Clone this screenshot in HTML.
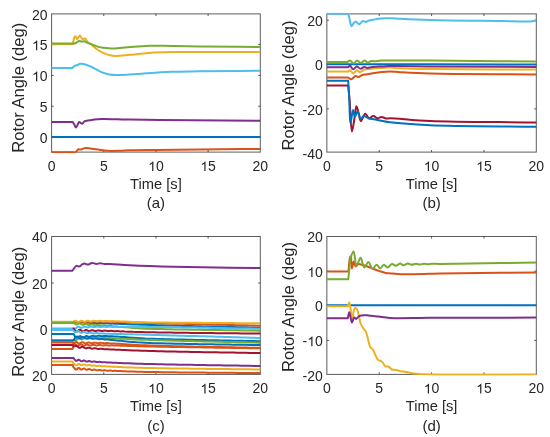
<!DOCTYPE html><html><head><meta charset="utf-8"><style>html,body{margin:0;padding:0;background:#fff;width:550px;height:437px;overflow:hidden}svg{display:block;will-change:transform;filter:blur(0.35px)}text{font-family:"Liberation Sans",sans-serif;fill:#262626}</style></head><body>
<svg width="550" height="437" viewBox="0 0 550 437">
<defs><clipPath id="ca"><rect x="51.60" y="12.70" width="208.70" height="140.60"/></clipPath></defs>
<rect x="51.60" y="13.90" width="208.70" height="138.20" fill="none" stroke="#262626" stroke-width="1" opacity="0.75"/>
<path d="M103.78,152.10v-2.10M103.78,13.90v2.10" stroke="#262626" stroke-width="1" opacity="0.75"/>
<path d="M155.95,152.10v-2.10M155.95,13.90v2.10" stroke="#262626" stroke-width="1" opacity="0.75"/>
<path d="M208.12,152.10v-2.10M208.12,13.90v2.10" stroke="#262626" stroke-width="1" opacity="0.75"/>
<path d="M51.60,137.20h2.10M260.30,137.20h-2.10" stroke="#262626" stroke-width="1" opacity="0.75"/>
<path d="M51.60,106.20h2.10M260.30,106.20h-2.10" stroke="#262626" stroke-width="1" opacity="0.75"/>
<path d="M51.60,75.40h2.10M260.30,75.40h-2.10" stroke="#262626" stroke-width="1" opacity="0.75"/>
<path d="M51.60,44.40h2.10M260.30,44.40h-2.10" stroke="#262626" stroke-width="1" opacity="0.75"/>
<g clip-path="url(#ca)" fill="none" stroke-linejoin="round" stroke-linecap="round">
<path d="M51.60,137.10 C121.17,137.10 190.73,137.10 260.30,137.10" stroke="#0072BD" stroke-width="2.00"/>
<path d="M51.60,152.30 C58.67,152.30 65.73,152.30 72.80,152.30C73.37,152.40 73.94,152.72 74.50,152.60 C75.17,152.45 75.85,151.73 76.50,151.20 C77.19,150.64 77.73,149.56 78.50,149.30 C79.24,149.06 80.23,149.73 81.00,149.60 C81.72,149.47 82.25,148.86 83.00,148.60 C83.88,148.30 84.90,148.04 86.00,148.00 C87.35,147.96 88.81,148.39 90.50,148.60 C92.68,148.88 95.59,149.17 98.00,149.50 C100.25,149.81 102.33,150.25 104.50,150.50 C106.66,150.75 108.66,150.94 111.00,151.00 C113.75,151.08 116.92,150.91 120.00,150.80 C123.25,150.68 125.91,150.43 130.00,150.30 C136.46,150.09 145.45,150.03 155.00,149.90 C167.81,149.73 183.90,149.56 200.00,149.40 C218.63,149.22 240.20,149.07 260.30,148.90" stroke="#D95319" stroke-width="2.00"/>
<path d="M51.60,44.20 C58.60,44.20 65.60,44.20 72.60,44.20C72.93,42.80 73.26,41.29 73.60,40.00 C73.89,38.88 74.03,37.46 74.50,36.90 C74.78,36.57 75.18,36.30 75.50,36.40 C76.03,36.57 76.48,39.07 77.00,39.10 C77.48,39.13 77.99,37.63 78.50,37.00 C78.96,36.44 79.46,35.46 79.90,35.50 C80.37,35.54 80.75,36.88 81.20,37.50 C81.62,38.07 81.95,38.94 82.50,39.10 C83.07,39.27 84.02,38.35 84.60,38.40 C85.04,38.44 85.35,38.66 85.70,39.00 C86.24,39.53 86.54,40.86 87.20,41.60 C87.87,42.36 88.83,42.86 89.70,43.50 C90.63,44.19 91.65,44.84 92.60,45.60 C93.59,46.40 94.40,47.35 95.50,48.20 C96.78,49.19 98.41,50.24 99.90,51.10 C101.34,51.93 102.72,52.63 104.30,53.30 C106.06,54.04 108.09,54.85 110.00,55.30 C111.83,55.73 113.76,55.95 115.50,56.00 C117.07,56.05 118.21,55.84 120.00,55.70 C122.68,55.49 126.14,55.17 130.00,54.80 C135.33,54.29 142.43,53.36 149.00,52.90 C156.06,52.40 163.16,52.17 171.00,52.00 C180.00,51.80 188.58,51.92 200.00,51.90 C216.46,51.87 240.20,51.90 260.30,51.90" stroke="#EDB120" stroke-width="2.00"/>
<path d="M51.60,121.90 C58.63,121.90 65.67,121.90 72.70,121.90C73.23,122.77 73.78,123.59 74.30,124.50 C74.85,125.46 75.35,127.48 75.90,127.50 C76.42,127.52 76.99,125.89 77.50,125.00 C78.06,124.03 78.46,122.06 79.10,121.90 C79.58,121.78 80.15,122.70 80.70,123.00 C81.22,123.29 81.79,123.82 82.30,123.70 C82.96,123.55 83.49,121.96 84.20,121.50 C84.78,121.12 85.35,121.08 86.10,120.90 C87.14,120.65 88.58,120.54 89.90,120.30 C91.34,120.04 92.70,119.61 94.40,119.40 C96.59,119.12 99.03,119.05 102.00,119.00 C106.22,118.93 112.44,119.19 117.30,119.30 C121.73,119.40 124.87,119.50 130.00,119.60 C137.88,119.76 147.07,119.95 160.00,120.10 C183.64,120.37 226.87,120.50 260.30,120.70" stroke="#7E2F8E" stroke-width="2.00"/>
<path d="M51.60,43.50 C58.73,43.50 65.87,43.50 73.00,43.50C73.73,43.43 74.53,43.52 75.20,43.30 C75.86,43.08 76.37,42.58 77.00,42.20 C77.70,41.78 78.45,40.99 79.20,40.90 C79.92,40.82 80.61,41.52 81.40,41.60 C82.29,41.69 83.40,41.11 84.30,41.30 C85.20,41.48 85.89,42.30 86.80,42.70 C87.80,43.14 88.95,43.39 90.10,43.80 C91.37,44.25 92.68,44.78 94.10,45.30 C95.69,45.88 97.48,46.68 99.20,47.10 C100.88,47.51 102.48,47.58 104.30,47.80 C106.38,48.05 108.60,48.44 111.00,48.50 C113.78,48.57 116.92,48.22 120.00,48.00 C123.25,47.76 126.13,47.41 130.00,47.10 C135.32,46.68 142.43,46.01 149.00,45.80 C156.06,45.57 163.16,45.81 171.00,45.90 C180.00,46.00 188.58,46.24 200.00,46.40 C216.46,46.64 240.20,46.87 260.30,47.10" stroke="#77AC30" stroke-width="2.00"/>
<path d="M51.60,68.10 C58.53,68.10 65.47,68.10 72.40,68.10C72.77,67.67 73.13,67.20 73.50,66.80 C73.83,66.44 74.04,66.05 74.50,65.80 C75.13,65.45 76.21,65.51 77.10,65.20 C78.13,64.84 79.12,63.89 80.30,63.70 C81.62,63.48 83.16,63.81 84.70,64.20 C86.53,64.66 88.54,65.63 90.50,66.50 C92.57,67.42 94.69,68.56 96.80,69.60 C98.93,70.65 101.03,71.98 103.20,72.80 C105.27,73.59 107.38,74.12 109.50,74.50 C111.61,74.88 113.76,75.02 115.90,75.10 C118.03,75.18 119.86,75.09 122.30,75.00 C125.56,74.87 130.22,74.54 133.70,74.30 C136.63,74.10 138.26,73.95 141.80,73.70 C148.52,73.23 161.28,72.20 171.00,71.80 C180.68,71.40 188.58,71.46 200.00,71.30 C216.46,71.08 240.20,70.90 260.30,70.70" stroke="#4DBEEE" stroke-width="2.00"/>
</g>
<text x="47.71" y="171.10" font-size="14">0</text>
<text x="99.88" y="171.10" font-size="14">5</text>
<text x="148.16" y="171.10" font-size="14"> 0</text><path d="M763 0H583V1147Q518 1085 412.5 1023T223 930V1104Q374 1175 487 1276T647 1472H763V0Z" transform="translate(148.164,171.100) scale(0.00684,-0.00654)" fill="#262626"/>
<text x="200.34" y="171.10" font-size="14"> 5</text><path d="M763 0H583V1147Q518 1085 412.5 1023T223 930V1104Q374 1175 487 1276T647 1472H763V0Z" transform="translate(200.339,171.100) scale(0.00684,-0.00654)" fill="#262626"/>
<text x="252.51" y="171.10" font-size="14">20</text>
<text x="39.81" y="143.00" font-size="14">0</text>
<text x="39.81" y="112.00" font-size="14">5</text>
<text x="32.03" y="81.20" font-size="14"> 0</text><path d="M763 0H583V1147Q518 1085 412.5 1023T223 930V1104Q374 1175 487 1276T647 1472H763V0Z" transform="translate(32.028,81.200) scale(0.00684,-0.00654)" fill="#262626"/>
<text x="32.03" y="50.20" font-size="14"> 5</text><path d="M763 0H583V1147Q518 1085 412.5 1023T223 930V1104Q374 1175 487 1276T647 1472H763V0Z" transform="translate(32.028,50.200) scale(0.00684,-0.00654)" fill="#262626"/>
<text x="32.03" y="19.60" font-size="14">20</text>
<text x="155.95" y="189.00" font-size="14.7" text-anchor="middle">Time [s]</text>
<text x="155.95" y="208.40" font-size="15" text-anchor="middle">(a)</text>
<text transform="translate(23.60,87.70) rotate(-90)" font-size="16.6" text-anchor="middle">Rotor Angle (deg)</text>
<defs><clipPath id="cb"><rect x="326.85" y="12.70" width="209.45" height="140.60"/></clipPath></defs>
<rect x="326.85" y="13.90" width="209.45" height="138.20" fill="none" stroke="#262626" stroke-width="1" opacity="0.75"/>
<path d="M379.21,152.10v-2.10M379.21,13.90v2.10" stroke="#262626" stroke-width="1" opacity="0.75"/>
<path d="M431.57,152.10v-2.10M431.57,13.90v2.10" stroke="#262626" stroke-width="1" opacity="0.75"/>
<path d="M483.94,152.10v-2.10M483.94,13.90v2.10" stroke="#262626" stroke-width="1" opacity="0.75"/>
<path d="M326.85,20.20h2.10M536.30,20.20h-2.10" stroke="#262626" stroke-width="1" opacity="0.75"/>
<path d="M326.85,64.60h2.10M536.30,64.60h-2.10" stroke="#262626" stroke-width="1" opacity="0.75"/>
<path d="M326.85,108.90h2.10M536.30,108.90h-2.10" stroke="#262626" stroke-width="1" opacity="0.75"/>
<g clip-path="url(#cb)" fill="none" stroke-linejoin="round" stroke-linecap="round">
<path d="M326.70,64.30 C396.57,64.33 466.43,64.37 536.30,64.40" stroke="#0072BD" stroke-width="2.00"/>
<path d="M326.70,77.60 C333.70,77.60 340.70,77.60 347.70,77.60C348.30,77.90 348.89,78.22 349.50,78.50 C350.12,78.79 350.68,79.40 351.40,79.30 C352.55,79.15 354.16,76.36 355.50,76.10 C356.55,75.90 357.58,77.12 358.60,77.00 C359.68,76.87 360.54,75.64 361.80,75.20 C363.35,74.66 365.35,74.65 367.30,74.30 C369.54,73.90 372.09,73.28 374.50,72.90 C376.92,72.52 379.29,72.23 381.80,72.00 C384.45,71.76 387.13,71.49 390.00,71.50 C393.17,71.51 395.77,71.95 400.00,72.20 C407.32,72.63 416.93,73.25 430.00,73.60 C454.58,74.27 500.87,74.13 536.30,74.40" stroke="#D95319" stroke-width="2.00"/>
<path d="M326.70,71.50 C333.87,71.50 341.03,71.50 348.20,71.50C348.80,71.07 349.34,70.15 350.00,70.20 C350.94,70.28 352.09,73.37 353.20,73.40 C354.35,73.43 355.60,70.30 356.80,70.20 C357.86,70.11 358.87,72.19 360.00,72.20 C361.28,72.21 362.45,70.27 364.10,69.70 C366.20,68.98 369.12,69.09 371.80,68.80 C374.73,68.49 377.95,68.10 381.00,67.90 C384.01,67.70 386.92,67.56 390.00,67.60 C393.25,67.64 395.77,68.02 400.00,68.20 C407.32,68.52 416.94,68.79 430.00,69.00 C454.58,69.40 500.87,69.40 536.30,69.60" stroke="#EDB120" stroke-width="2.00"/>
<path d="M326.70,67.30 C333.87,67.30 341.03,67.30 348.20,67.30C348.80,66.80 349.34,65.76 350.00,65.80 C350.94,65.86 352.05,69.20 353.20,69.30 C354.32,69.40 355.57,66.56 356.80,66.50 C358.00,66.44 359.26,68.74 360.50,68.80 C361.69,68.86 362.91,67.11 364.10,67.00 C365.18,66.90 366.19,67.85 367.30,67.90 C368.48,67.95 369.46,67.40 371.00,67.20 C373.51,66.88 377.75,66.69 381.00,66.50 C384.08,66.32 385.93,66.18 390.00,66.10 C398.58,65.94 413.47,66.29 430.00,66.40 C456.94,66.58 500.87,66.80 536.30,67.00" stroke="#7E2F8E" stroke-width="2.00"/>
<path d="M326.70,62.00 C333.70,62.00 340.70,62.00 347.70,62.00C348.47,61.47 349.16,60.36 350.00,60.40 C351.08,60.45 352.39,63.39 353.60,63.40 C354.82,63.41 356.11,60.41 357.30,60.40 C358.40,60.39 359.35,62.84 360.50,62.90 C361.74,62.96 363.25,60.39 364.50,60.40 C365.63,60.41 366.57,62.40 367.70,62.50 C368.86,62.60 370.20,61.07 371.40,60.90 C372.46,60.75 373.28,61.29 374.50,61.30 C376.27,61.32 378.65,60.74 381.00,60.60 C383.75,60.44 385.93,60.53 390.00,60.50 C398.58,60.44 413.47,60.33 430.00,60.40 C456.94,60.52 500.87,61.20 536.30,61.60" stroke="#77AC30" stroke-width="2.00"/>
<path d="M326.70,13.80 C333.87,13.80 341.03,13.80 348.20,13.80C348.67,15.53 349.10,17.13 349.60,19.00 C350.19,21.20 350.65,26.04 351.50,26.20 C352.07,26.31 352.76,24.30 353.50,23.50 C354.20,22.74 354.96,21.51 355.80,21.50 C356.80,21.49 357.97,24.22 359.10,24.20 C360.33,24.18 361.68,21.10 362.90,20.90 C363.83,20.75 364.62,22.01 365.60,22.00 C366.76,21.99 368.13,20.77 369.40,20.40 C370.60,20.05 371.69,20.05 373.00,19.80 C374.58,19.50 376.29,18.96 378.20,18.70 C380.48,18.38 383.36,18.28 385.80,18.20 C388.05,18.13 390.04,18.13 392.30,18.20 C394.76,18.28 396.59,18.52 400.00,18.70 C406.72,19.06 417.91,19.65 430.00,20.00 C448.46,20.53 481.54,20.75 500.00,21.00 C512.09,21.17 523.72,21.66 530.00,21.40 C532.88,21.28 534.20,21.00 536.30,20.80" stroke="#4DBEEE" stroke-width="2.00"/>
<path d="M326.70,85.40 C333.87,85.40 341.03,85.40 348.20,85.40C348.67,90.27 349.11,94.21 349.60,100.00 C350.32,108.50 350.83,131.43 351.90,131.50 C352.55,131.54 353.48,124.01 354.20,120.00 C354.99,115.64 355.49,106.37 356.40,106.30 C357.05,106.25 357.90,110.65 358.60,113.00 C359.37,115.56 359.70,120.94 360.80,121.10 C361.92,121.26 363.80,113.81 365.30,113.70 C366.53,113.61 367.57,117.90 369.00,118.20 C370.33,118.48 372.09,115.84 373.50,115.90 C374.81,115.95 375.86,118.00 377.20,118.20 C378.59,118.41 380.22,116.95 381.70,117.00 C383.18,117.05 384.66,118.32 386.10,118.50 C387.42,118.67 388.02,118.21 390.00,118.20 C396.34,118.18 413.46,120.31 430.00,121.00 C456.93,122.12 500.87,121.93 536.30,122.40" stroke="#A2142F" stroke-width="2.00"/>
<path d="M326.70,80.70 C333.87,80.70 341.03,80.70 348.20,80.70C348.57,87.13 348.95,93.26 349.30,100.00 C349.69,107.42 349.57,123.34 350.40,123.40 C351.03,123.45 352.23,110.03 353.10,110.00 C353.72,109.98 354.10,116.61 354.90,116.70 C355.63,116.78 356.70,111.47 357.60,111.50 C358.66,111.54 359.55,118.66 360.80,118.90 C361.70,119.07 362.62,116.09 363.80,115.90 C365.09,115.70 366.65,117.64 368.30,118.20 C370.09,118.81 372.12,118.90 374.20,119.30 C376.55,119.75 379.13,120.31 381.70,120.80 C384.39,121.31 386.18,121.82 390.00,122.30 C398.33,123.35 413.46,124.48 430.00,125.20 C456.93,126.38 500.87,126.27 536.30,126.80" stroke="#0072BD" stroke-width="2.00"/>
</g>
<text x="322.96" y="171.10" font-size="14">0</text>
<text x="375.32" y="171.10" font-size="14">5</text>
<text x="423.79" y="171.10" font-size="14"> 0</text><path d="M763 0H583V1147Q518 1085 412.5 1023T223 930V1104Q374 1175 487 1276T647 1472H763V0Z" transform="translate(423.789,171.100) scale(0.00684,-0.00654)" fill="#262626"/>
<text x="476.15" y="171.10" font-size="14"> 5</text><path d="M763 0H583V1147Q518 1085 412.5 1023T223 930V1104Q374 1175 487 1276T647 1472H763V0Z" transform="translate(476.151,171.100) scale(0.00684,-0.00654)" fill="#262626"/>
<text x="528.51" y="171.10" font-size="14">20</text>
<text x="307.28" y="26.00" font-size="14">20</text>
<text x="315.06" y="70.40" font-size="14">0</text>
<text x="302.62" y="114.70" font-size="14">-20</text>
<text x="302.62" y="158.70" font-size="14">-40</text>
<text x="431.57" y="189.00" font-size="14.7" text-anchor="middle">Time [s]</text>
<text x="431.57" y="208.40" font-size="15" text-anchor="middle">(b)</text>
<text transform="translate(293.50,85.50) rotate(-90)" font-size="16.6" text-anchor="middle">Rotor Angle (deg)</text>
<defs><clipPath id="cc"><rect x="51.60" y="235.30" width="208.70" height="140.30"/></clipPath></defs>
<rect x="51.60" y="236.50" width="208.70" height="137.90" fill="none" stroke="#262626" stroke-width="1" opacity="0.75"/>
<path d="M103.78,374.40v-2.10M103.78,236.50v2.10" stroke="#262626" stroke-width="1" opacity="0.75"/>
<path d="M155.95,374.40v-2.10M155.95,236.50v2.10" stroke="#262626" stroke-width="1" opacity="0.75"/>
<path d="M208.12,374.40v-2.10M208.12,236.50v2.10" stroke="#262626" stroke-width="1" opacity="0.75"/>
<path d="M51.60,283.00h2.10M260.30,283.00h-2.10" stroke="#262626" stroke-width="1" opacity="0.75"/>
<path d="M51.60,328.90h2.10M260.30,328.90h-2.10" stroke="#262626" stroke-width="1" opacity="0.75"/>
<g clip-path="url(#cc)" fill="none" stroke-linejoin="round" stroke-linecap="round">
<path d="M51.60,322.40 L72.47,322.40 L72.89,322.65 L73.30,322.77 L73.72,322.70 L74.14,322.41 L74.56,322.15 L74.97,321.95 L75.39,321.86 L75.81,321.88 L76.23,322.00 L76.64,322.21 L77.06,322.47 L77.48,322.73 L77.90,322.95 L78.31,323.11 L78.73,323.17 L79.15,323.14 L79.57,323.02 L79.98,322.86 L80.40,322.67 L80.82,322.49 L81.24,322.36 L81.65,322.29 L82.07,322.30 L82.49,322.38 L82.91,322.52 L83.32,322.69 L83.74,322.87 L84.16,323.02 L84.57,323.12 L84.99,323.17 L85.41,323.15 L85.83,323.08 L86.24,322.97 L86.66,322.84 L87.08,322.72 L87.50,322.64 L87.91,322.60 L88.33,322.61 L88.75,322.67 L89.17,322.76 L89.58,322.88 L90.00,323.00 L90.42,323.10 L90.84,323.18 L91.25,323.21 L91.67,323.20 L92.09,323.15 L92.51,323.08 L92.92,323.00 L93.34,322.93 L93.76,322.88 L94.17,322.85 L94.59,322.86 L95.01,322.91 L95.43,322.98 L95.84,323.06 L96.26,323.14 L96.68,323.22 L97.10,323.27 L97.51,323.30 L97.93,323.30 L98.35,323.27 L98.77,323.23 L99.18,323.18 L99.60,323.14 L100.02,323.11 L100.44,323.10 L100.85,323.11 L101.27,323.14 L101.69,323.20 L102.11,323.26 L102.52,323.32 L102.94,323.38 L103.36,323.42 L103.78,323.44 L104.19,323.45 L104.61,323.44 L105.03,323.42 L105.44,323.39 L105.86,323.36 L106.28,323.35 L106.70,323.35 L107.11,323.36 L107.53,323.39 L107.95,323.43 L108.37,323.48 L108.78,323.53 L109.20,323.57 L109.62,323.61 L110.04,323.63 L110.45,323.64 L110.87,323.64 L111.29,323.63 L111.71,323.61 L112.12,323.60 L112.54,323.60 L112.96,323.61 L113.38,323.62 L113.79,323.65 L114.21,323.68 L114.63,323.72 L115.04,323.75 L115.46,323.79 L115.88,323.82 L116.30,323.84 L116.71,323.85 L117.13,323.85 L117.55,323.85 L117.97,323.85 L118.38,323.85 L118.80,323.85 L119.22,323.86 L119.64,323.88 L120.05,323.90 L120.47,323.93 L120.89,323.96 L121.31,323.99 L121.72,324.02 L122.14,324.04 L122.56,324.06 L122.98,324.08 L123.39,324.09 L123.81,324.09 L124.23,324.10 L124.65,324.10 L128.82,324.30 L132.99,324.42 L137.17,324.58 L141.34,324.74 L145.52,324.87 L149.69,325.00 L153.86,325.12 L158.04,325.24 L162.21,325.35 L166.39,325.47 L170.56,325.57 L174.73,325.68 L178.91,325.79 L183.08,325.89 L187.26,325.99 L191.43,326.09 L195.60,326.19 L199.78,326.29 L203.95,326.39 L208.13,326.49 L212.30,326.58 L216.47,326.68 L220.65,326.77 L224.82,326.87 L229.00,326.97 L233.17,327.06 L237.34,327.16 L241.52,327.25 L245.69,327.35 L249.87,327.45 L254.04,327.55 L258.21,327.65 L260.30,327.70" stroke="#0072BD" stroke-width="2.00"/>
<path d="M51.60,322.20 L72.47,322.20 L72.89,322.33 L73.30,322.31 L73.72,322.13 L74.14,321.92 L74.56,321.76 L74.97,321.68 L75.39,321.69 L75.81,321.79 L76.23,321.94 L76.64,322.12 L77.06,322.30 L77.48,322.44 L77.90,322.53 L78.31,322.54 L78.73,322.48 L79.15,322.37 L79.57,322.21 L79.98,322.04 L80.40,321.89 L80.82,321.78 L81.24,321.72 L81.65,321.71 L82.07,321.77 L82.49,321.86 L82.91,321.97 L83.32,322.08 L83.74,322.17 L84.16,322.22 L84.57,322.23 L84.99,322.18 L85.41,322.09 L85.83,321.98 L86.24,321.86 L86.66,321.76 L87.08,321.67 L87.50,321.63 L87.91,321.62 L88.33,321.65 L88.75,321.71 L89.17,321.78 L89.58,321.85 L90.00,321.90 L90.42,321.93 L90.84,321.93 L91.25,321.90 L91.67,321.84 L92.09,321.76 L92.51,321.68 L92.92,321.61 L93.34,321.55 L93.76,321.52 L94.17,321.52 L94.59,321.54 L95.01,321.58 L95.43,321.63 L95.84,321.67 L96.26,321.71 L96.68,321.74 L97.10,321.74 L97.51,321.72 L97.93,321.68 L98.35,321.64 L98.77,321.59 L99.18,321.55 L99.60,321.51 L100.02,321.50 L100.44,321.50 L100.85,321.52 L101.27,321.56 L101.69,321.60 L102.11,321.64 L102.52,321.67 L102.94,321.69 L103.36,321.70 L103.78,321.69 L104.19,321.68 L104.61,321.65 L105.03,321.62 L105.44,321.60 L105.86,321.58 L106.28,321.58 L106.70,321.59 L107.11,321.61 L107.53,321.63 L107.95,321.67 L108.37,321.70 L108.78,321.73 L109.20,321.75 L109.62,321.76 L110.04,321.76 L110.45,321.76 L110.87,321.74 L111.29,321.73 L111.71,321.72 L112.12,321.72 L112.54,321.72 L112.96,321.73 L113.38,321.75 L113.79,321.78 L114.21,321.80 L114.63,321.83 L115.04,321.86 L115.46,321.88 L115.88,321.89 L116.30,321.90 L116.71,321.90 L117.13,321.90 L117.55,321.90 L117.97,321.90 L118.38,321.90 L118.80,321.91 L119.22,321.92 L119.64,321.94 L120.05,321.97 L120.47,321.99 L120.89,322.02 L121.31,322.04 L121.72,322.06 L122.14,322.07 L122.56,322.08 L122.98,322.09 L123.39,322.10 L123.81,322.10 L124.23,322.11 L124.65,322.12 L128.82,322.30 L132.99,322.44 L137.17,322.59 L141.34,322.75 L145.52,322.88 L149.69,323.00 L153.86,323.11 L158.04,323.22 L162.21,323.32 L166.39,323.43 L170.56,323.53 L174.73,323.64 L178.91,323.74 L183.08,323.84 L187.26,323.94 L191.43,324.05 L195.60,324.15 L199.78,324.25 L203.95,324.35 L208.13,324.45 L212.30,324.55 L216.47,324.65 L220.65,324.75 L224.82,324.85 L229.00,324.95 L233.17,325.05 L237.34,325.15 L241.52,325.25 L245.69,325.35 L249.87,325.45 L254.04,325.55 L258.21,325.65 L260.30,325.70" stroke="#D95319" stroke-width="2.00"/>
<path d="M51.60,349.00 L72.47,349.00 L72.89,348.38 L73.30,346.65 L73.72,344.78 L74.14,344.07 L74.56,343.96 L74.97,344.02 L75.39,344.25 L75.81,344.60 L76.23,344.99 L76.64,345.37 L77.06,345.66 L77.48,345.83 L77.90,345.85 L78.31,345.73 L78.73,345.49 L79.15,345.18 L79.57,344.86 L79.98,344.59 L80.40,344.40 L80.82,344.32 L81.24,344.37 L81.65,344.52 L82.07,344.75 L82.49,345.02 L82.91,345.27 L83.32,345.47 L83.74,345.59 L84.16,345.61 L84.57,345.53 L84.99,345.37 L85.41,345.17 L85.83,344.95 L86.24,344.77 L86.66,344.64 L87.08,344.60 L87.50,344.63 L87.91,344.74 L88.33,344.89 L88.75,345.07 L89.17,345.25 L89.58,345.38 L90.00,345.46 L90.42,345.48 L90.84,345.42 L91.25,345.32 L91.67,345.19 L92.09,345.05 L92.51,344.93 L92.92,344.84 L93.34,344.81 L93.76,344.84 L94.17,344.91 L94.59,345.02 L95.01,345.14 L95.43,345.26 L95.84,345.35 L96.26,345.41 L96.68,345.42 L97.10,345.39 L97.51,345.32 L97.93,345.23 L98.35,345.14 L98.77,345.06 L99.18,345.01 L99.60,344.99 L100.02,345.01 L100.44,345.06 L100.85,345.13 L101.27,345.22 L101.69,345.30 L102.11,345.37 L102.52,345.41 L102.94,345.42 L103.36,345.40 L103.78,345.36 L104.19,345.30 L104.61,345.25 L105.03,345.20 L105.44,345.17 L105.86,345.16 L106.28,345.18 L106.70,345.22 L107.11,345.27 L107.53,345.33 L107.95,345.39 L108.37,345.44 L108.78,345.47 L109.20,345.48 L109.62,345.48 L110.04,345.46 L110.45,345.42 L110.87,345.39 L111.29,345.36 L111.71,345.35 L112.12,345.35 L112.54,345.36 L112.96,345.39 L113.38,345.44 L113.79,345.48 L114.21,345.53 L114.63,345.57 L115.04,345.59 L115.46,345.61 L115.88,345.61 L116.30,345.60 L116.71,345.58 L117.13,345.56 L117.55,345.55 L117.97,345.54 L118.38,345.55 L118.80,345.56 L119.22,345.59 L119.64,345.62 L120.05,345.66 L120.47,345.69 L120.89,345.73 L121.31,345.75 L121.72,345.76 L122.14,345.77 L122.56,345.77 L122.98,345.76 L123.39,345.75 L123.81,345.75 L124.23,345.75 L124.65,345.76 L128.82,345.95 L132.99,346.07 L137.17,346.17 L141.34,346.31 L145.52,346.41 L149.69,346.49 L153.86,346.59 L158.04,346.66 L162.21,346.74 L166.39,346.82 L170.56,346.89 L174.73,346.96 L178.91,347.04 L183.08,347.10 L187.26,347.17 L191.43,347.24 L195.60,347.31 L199.78,347.37 L203.95,347.44 L208.13,347.50 L212.30,347.56 L216.47,347.63 L220.65,347.69 L224.82,347.75 L229.00,347.81 L233.17,347.88 L237.34,347.94 L241.52,348.00 L245.69,348.07 L249.87,348.13 L254.04,348.20 L258.21,348.27 L260.30,348.30" stroke="#D95319" stroke-width="2.00"/>
<path d="M51.60,321.80 L72.47,321.80 L72.89,322.00 L73.30,321.94 L73.72,321.60 L74.14,321.19 L74.56,320.88 L74.97,320.71 L75.39,320.70 L75.81,320.84 L76.23,321.09 L76.64,321.39 L77.06,321.69 L77.48,321.93 L77.90,322.07 L78.31,322.10 L78.73,322.01 L79.15,321.81 L79.57,321.56 L79.98,321.28 L80.40,321.04 L80.82,320.85 L81.24,320.76 L81.65,320.76 L82.07,320.86 L82.49,321.02 L82.91,321.22 L83.32,321.42 L83.74,321.57 L84.16,321.67 L84.57,321.68 L84.99,321.62 L85.41,321.49 L85.83,321.32 L86.24,321.13 L86.66,320.96 L87.08,320.84 L87.50,320.77 L87.91,320.78 L88.33,320.84 L88.75,320.95 L89.17,321.08 L89.58,321.21 L90.00,321.32 L90.42,321.38 L90.84,321.39 L91.25,321.35 L91.67,321.26 L92.09,321.15 L92.51,321.02 L92.92,320.91 L93.34,320.83 L93.76,320.79 L94.17,320.79 L94.59,320.83 L95.01,320.91 L95.43,321.00 L95.84,321.09 L96.26,321.16 L96.68,321.21 L97.10,321.21 L97.51,321.19 L97.93,321.13 L98.35,321.06 L98.77,320.98 L99.18,320.91 L99.60,320.86 L100.02,320.83 L100.44,320.84 L100.85,320.87 L101.27,320.93 L101.69,320.99 L102.11,321.06 L102.52,321.11 L102.94,321.15 L103.36,321.16 L103.78,321.15 L104.19,321.12 L104.61,321.07 L105.03,321.02 L105.44,320.98 L105.86,320.95 L106.28,320.95 L106.70,320.96 L107.11,320.99 L107.53,321.03 L107.95,321.08 L108.37,321.13 L108.78,321.17 L109.20,321.20 L109.62,321.22 L110.04,321.22 L110.45,321.20 L110.87,321.18 L111.29,321.16 L111.71,321.14 L112.12,321.12 L112.54,321.12 L112.96,321.14 L113.38,321.17 L113.79,321.20 L114.21,321.24 L114.63,321.28 L115.04,321.32 L115.46,321.35 L115.88,321.36 L116.30,321.37 L116.71,321.37 L117.13,321.36 L117.55,321.35 L117.97,321.35 L118.38,321.34 L118.80,321.35 L119.22,321.37 L119.64,321.39 L120.05,321.42 L120.47,321.46 L120.89,321.49 L121.31,321.52 L121.72,321.55 L122.14,321.57 L122.56,321.58 L122.98,321.58 L123.39,321.58 L123.81,321.58 L124.23,321.59 L124.65,321.59 L128.82,321.81 L132.99,321.94 L137.17,322.08 L141.34,322.23 L145.52,322.33 L149.69,322.39 L153.86,322.46 L158.04,322.50 L162.21,322.54 L166.39,322.59 L170.56,322.63 L174.73,322.67 L178.91,322.71 L183.08,322.74 L187.26,322.78 L191.43,322.81 L195.60,322.84 L199.78,322.87 L203.95,322.90 L208.13,322.93 L212.30,322.96 L216.47,322.99 L220.65,323.02 L224.82,323.05 L229.00,323.07 L233.17,323.10 L237.34,323.13 L241.52,323.16 L245.69,323.19 L249.87,323.22 L254.04,323.25 L258.21,323.28 L260.30,323.30" stroke="#EDB120" stroke-width="2.00"/>
<path d="M51.60,270.80 C58.53,270.80 65.47,270.80 72.40,270.80C73.00,269.93 73.56,269.02 74.20,268.20 C74.83,267.39 75.47,266.14 76.20,265.90 C76.76,265.71 77.41,266.22 78.00,266.30 C78.55,266.38 79.05,266.57 79.60,266.40 C80.36,266.16 81.16,264.99 82.00,264.50 C82.77,264.05 83.64,263.51 84.40,263.50 C85.10,263.50 85.74,264.12 86.40,264.30 C87.01,264.47 87.50,264.69 88.20,264.60 C89.25,264.47 90.67,263.01 92.00,262.90 C93.37,262.78 94.90,263.97 96.30,264.00 C97.63,264.03 98.87,263.21 100.20,263.20 C101.60,263.19 102.97,263.85 104.50,264.00 C106.21,264.17 107.61,264.00 110.00,264.10 C114.50,264.28 121.62,264.93 129.40,265.30 C141.12,265.86 156.33,266.39 173.50,266.80 C197.58,267.38 231.37,267.60 260.30,268.00" stroke="#7E2F8E" stroke-width="2.00"/>
<path d="M51.60,322.80 L72.47,322.80 L72.89,322.52 L73.30,322.30 L73.72,322.26 L74.14,322.68 L74.56,323.18 L74.97,323.67 L75.39,324.07 L75.81,324.33 L76.23,324.45 L76.64,324.43 L77.06,324.29 L77.48,324.07 L77.90,323.81 L78.31,323.57 L78.73,323.39 L79.15,323.31 L79.57,323.34 L79.98,323.48 L80.40,323.69 L80.82,323.96 L81.24,324.23 L81.65,324.47 L82.07,324.64 L82.49,324.72 L82.91,324.71 L83.32,324.61 L83.74,324.47 L84.16,324.29 L84.57,324.13 L84.99,324.02 L85.41,323.96 L85.83,323.98 L86.24,324.08 L86.66,324.23 L87.08,324.41 L87.50,324.59 L87.91,324.75 L88.33,324.87 L88.75,324.93 L89.17,324.92 L89.58,324.86 L90.00,324.77 L90.42,324.66 L90.84,324.55 L91.25,324.48 L91.67,324.45 L92.09,324.47 L92.51,324.54 L92.92,324.64 L93.34,324.77 L93.76,324.90 L94.17,325.02 L94.59,325.10 L95.01,325.15 L95.43,325.16 L95.84,325.13 L96.26,325.07 L96.68,325.01 L97.10,324.95 L97.51,324.91 L97.93,324.90 L98.35,324.93 L98.77,324.98 L99.18,325.07 L99.60,325.17 L100.02,325.27 L100.44,325.36 L100.85,325.43 L101.27,325.48 L101.69,325.49 L102.11,325.49 L102.52,325.47 L102.94,325.44 L103.36,325.41 L103.78,325.40 L104.19,325.41 L104.61,325.44 L105.03,325.49 L105.44,325.56 L105.86,325.65 L106.28,325.73 L106.70,325.80 L107.11,325.86 L107.53,325.91 L107.95,325.93 L108.37,325.94 L108.78,325.94 L109.20,325.94 L109.62,325.93 L110.04,325.94 L110.45,325.96 L110.87,325.99 L111.29,326.04 L111.71,326.10 L112.12,326.17 L112.54,326.24 L112.96,326.30 L113.38,326.36 L113.79,326.40 L114.21,326.43 L114.63,326.45 L115.04,326.46 L115.46,326.47 L115.88,326.48 L116.30,326.50 L116.71,326.52 L117.13,326.56 L117.55,326.60 L117.97,326.66 L118.38,326.71 L118.80,326.77 L119.22,326.83 L119.64,326.88 L120.05,326.92 L120.47,326.95 L120.89,326.97 L121.31,326.99 L121.72,327.01 L122.14,327.03 L122.56,327.05 L122.98,327.08 L123.39,327.12 L123.81,327.16 L124.23,327.20 L124.65,327.25 L128.82,327.58 L132.99,327.94 L137.17,328.20 L141.34,328.44 L145.52,328.66 L149.69,328.80 L153.86,328.91 L158.04,329.02 L162.21,329.12 L166.39,329.21 L170.56,329.31 L174.73,329.39 L178.91,329.47 L183.08,329.55 L187.26,329.62 L191.43,329.69 L195.60,329.75 L199.78,329.82 L203.95,329.88 L208.13,329.94 L212.30,330.00 L216.47,330.06 L220.65,330.12 L224.82,330.17 L229.00,330.23 L233.17,330.29 L237.34,330.35 L241.52,330.41 L245.69,330.47 L249.87,330.53 L254.04,330.60 L258.21,330.66 L260.30,330.70" stroke="#77AC30" stroke-width="2.00"/>
<path d="M51.60,328.50 L72.47,328.50 L72.89,328.18 L73.30,328.03 L73.72,328.14 L74.14,328.35 L74.56,328.48 L74.97,328.51 L75.39,328.43 L75.81,328.27 L76.23,327.99 L76.64,327.64 L77.06,327.27 L77.48,326.95 L77.90,326.72 L78.31,326.61 L78.73,326.63 L79.15,326.77 L79.57,327.00 L79.98,327.26 L80.40,327.52 L80.82,327.71 L81.24,327.82 L81.65,327.82 L82.07,327.71 L82.49,327.53 L82.91,327.29 L83.32,327.04 L83.74,326.82 L84.16,326.66 L84.57,326.59 L84.99,326.60 L85.41,326.70 L85.83,326.85 L86.24,327.02 L86.66,327.19 L87.08,327.32 L87.50,327.39 L87.91,327.39 L88.33,327.32 L88.75,327.19 L89.17,327.03 L89.58,326.87 L90.00,326.72 L90.42,326.62 L90.84,326.57 L91.25,326.58 L91.67,326.64 L92.09,326.74 L92.51,326.86 L92.92,326.97 L93.34,327.06 L93.76,327.11 L94.17,327.11 L94.59,327.07 L95.01,326.99 L95.43,326.88 L95.84,326.77 L96.26,326.68 L96.68,326.61 L97.10,326.58 L97.51,326.59 L97.93,326.64 L98.35,326.71 L98.77,326.80 L99.18,326.88 L99.60,326.94 L100.02,326.98 L100.44,326.98 L100.85,326.96 L101.27,326.91 L101.69,326.84 L102.11,326.77 L102.52,326.71 L102.94,326.67 L103.36,326.65 L103.78,326.66 L104.19,326.69 L104.61,326.74 L105.03,326.80 L105.44,326.85 L105.86,326.90 L106.28,326.92 L106.70,326.93 L107.11,326.91 L107.53,326.88 L107.95,326.83 L108.37,326.79 L108.78,326.75 L109.20,326.72 L109.62,326.71 L110.04,326.72 L110.45,326.74 L110.87,326.77 L111.29,326.81 L111.71,326.85 L112.12,326.88 L112.54,326.90 L112.96,326.90 L113.38,326.89 L113.79,326.87 L114.21,326.84 L114.63,326.81 L115.04,326.78 L115.46,326.77 L115.88,326.76 L116.30,326.76 L116.71,326.78 L117.13,326.80 L117.55,326.83 L117.97,326.86 L118.38,326.88 L118.80,326.89 L119.22,326.89 L119.64,326.89 L120.05,326.87 L120.47,326.85 L120.89,326.84 L121.31,326.82 L121.72,326.81 L122.14,326.80 L122.56,326.81 L122.98,326.82 L123.39,326.84 L123.81,326.86 L124.23,326.87 L124.65,326.89 L128.82,326.85 L132.99,326.91 L137.17,326.94 L141.34,326.94 L145.52,326.98 L149.69,327.01 L153.86,327.02 L158.04,327.07 L162.21,327.11 L166.39,327.15 L170.56,327.20 L174.73,327.26 L178.91,327.32 L183.08,327.38 L187.26,327.45 L191.43,327.52 L195.60,327.59 L199.78,327.67 L203.95,327.74 L208.13,327.82 L212.30,327.90 L216.47,327.98 L220.65,328.06 L224.82,328.15 L229.00,328.23 L233.17,328.31 L237.34,328.39 L241.52,328.47 L245.69,328.55 L249.87,328.62 L254.04,328.69 L258.21,328.77 L260.30,328.80" stroke="#4DBEEE" stroke-width="2.00"/>
<path d="M51.60,330.00 L72.47,330.00 L72.89,329.65 L73.30,329.17 L73.72,328.80 L74.14,329.13 L74.56,329.63 L74.97,330.23 L75.39,330.80 L75.81,331.25 L76.23,331.55 L76.64,331.66 L77.06,331.57 L77.48,331.31 L77.90,330.92 L78.31,330.50 L78.73,330.10 L79.15,329.79 L79.57,329.63 L79.98,329.64 L80.40,329.80 L80.82,330.07 L81.24,330.42 L81.65,330.78 L82.07,331.08 L82.49,331.28 L82.91,331.35 L83.32,331.29 L83.74,331.11 L84.16,330.85 L84.57,330.56 L84.99,330.30 L85.41,330.09 L85.83,329.98 L86.24,329.98 L86.66,330.09 L87.08,330.28 L87.50,330.51 L87.91,330.75 L88.33,330.95 L88.75,331.08 L89.17,331.13 L89.58,331.09 L90.00,330.97 L90.42,330.80 L90.84,330.61 L91.25,330.43 L91.67,330.29 L92.09,330.22 L92.51,330.22 L92.92,330.29 L93.34,330.42 L93.76,330.58 L94.17,330.74 L94.59,330.88 L95.01,330.97 L95.43,331.00 L95.84,330.98 L96.26,330.90 L96.68,330.79 L97.10,330.66 L97.51,330.54 L97.93,330.45 L98.35,330.41 L98.77,330.41 L99.18,330.46 L99.60,330.55 L100.02,330.66 L100.44,330.77 L100.85,330.87 L101.27,330.94 L101.69,330.96 L102.11,330.95 L102.52,330.90 L102.94,330.83 L103.36,330.76 L103.78,330.68 L104.19,330.63 L104.61,330.61 L105.03,330.61 L105.44,330.66 L105.86,330.72 L106.28,330.80 L106.70,330.88 L107.11,330.95 L107.53,331.01 L107.95,331.03 L108.37,331.03 L108.78,331.00 L109.20,330.96 L109.62,330.92 L110.04,330.88 L110.45,330.85 L110.87,330.84 L111.29,330.85 L111.71,330.89 L112.12,330.94 L112.54,331.00 L112.96,331.06 L113.38,331.11 L113.79,331.15 L114.21,331.18 L114.63,331.18 L115.04,331.17 L115.46,331.15 L115.88,331.13 L116.30,331.11 L116.71,331.10 L117.13,331.10 L117.55,331.11 L117.97,331.14 L118.38,331.18 L118.80,331.23 L119.22,331.28 L119.64,331.32 L120.05,331.36 L120.47,331.38 L120.89,331.39 L121.31,331.39 L121.72,331.38 L122.14,331.37 L122.56,331.36 L122.98,331.36 L123.39,331.37 L123.81,331.39 L124.23,331.41 L124.65,331.45 L128.82,331.63 L132.99,331.84 L137.17,331.95 L141.34,332.09 L145.52,332.23 L149.69,332.29 L153.86,332.37 L158.04,332.44 L162.21,332.50 L166.39,332.56 L170.56,332.62 L174.73,332.67 L178.91,332.73 L183.08,332.78 L187.26,332.83 L191.43,332.88 L195.60,332.93 L199.78,332.97 L203.95,333.01 L208.13,333.06 L212.30,333.10 L216.47,333.14 L220.65,333.18 L224.82,333.22 L229.00,333.27 L233.17,333.31 L237.34,333.35 L241.52,333.39 L245.69,333.44 L249.87,333.48 L254.04,333.53 L258.21,333.58 L260.30,333.60" stroke="#A2142F" stroke-width="2.00"/>
<path d="M51.60,334.00 L72.47,334.00 L72.89,333.98 L73.30,334.04 L73.72,334.22 L74.14,334.99 L74.56,335.80 L74.97,336.48 L75.39,336.94 L75.81,337.38 L76.23,337.72 L76.64,337.92 L77.06,337.95 L77.48,337.81 L77.90,337.54 L78.31,337.18 L78.73,336.80 L79.15,336.46 L79.57,336.22 L79.98,336.10 L80.40,336.12 L80.82,336.27 L81.24,336.51 L81.65,336.79 L82.07,337.06 L82.49,337.27 L82.91,337.38 L83.32,337.39 L83.74,337.28 L84.16,337.08 L84.57,336.82 L84.99,336.55 L85.41,336.31 L85.83,336.13 L86.24,336.03 L86.66,336.03 L87.08,336.12 L87.50,336.27 L87.91,336.44 L88.33,336.61 L88.75,336.74 L89.17,336.81 L89.58,336.80 L90.00,336.72 L90.42,336.58 L90.84,336.40 L91.25,336.21 L91.67,336.04 L92.09,335.91 L92.51,335.85 L92.92,335.84 L93.34,335.90 L93.76,335.99 L94.17,336.11 L94.59,336.22 L95.01,336.31 L95.43,336.36 L95.84,336.35 L96.26,336.30 L96.68,336.21 L97.10,336.10 L97.51,335.98 L97.93,335.87 L98.35,335.80 L98.77,335.76 L99.18,335.77 L99.60,335.82 L100.02,335.90 L100.44,335.99 L100.85,336.08 L101.27,336.15 L101.69,336.20 L102.11,336.21 L102.52,336.19 L102.94,336.14 L103.36,336.08 L103.78,336.02 L104.19,335.96 L104.61,335.92 L105.03,335.91 L105.44,335.93 L105.86,335.97 L106.28,336.04 L106.70,336.11 L107.11,336.18 L107.53,336.25 L107.95,336.29 L108.37,336.31 L108.78,336.31 L109.20,336.29 L109.62,336.26 L110.04,336.23 L110.45,336.20 L110.87,336.19 L111.29,336.20 L111.71,336.22 L112.12,336.27 L112.54,336.32 L112.96,336.39 L113.38,336.45 L113.79,336.50 L114.21,336.54 L114.63,336.57 L115.04,336.58 L115.46,336.58 L115.88,336.58 L116.30,336.57 L116.71,336.57 L117.13,336.57 L117.55,336.59 L117.97,336.62 L118.38,336.66 L118.80,336.71 L119.22,336.77 L119.64,336.82 L120.05,336.87 L120.47,336.91 L120.89,336.94 L121.31,336.96 L121.72,336.98 L122.14,336.98 L122.56,336.99 L122.98,337.00 L123.39,337.02 L123.81,337.04 L124.23,337.07 L124.65,337.11 L128.82,337.45 L132.99,337.79 L137.17,338.04 L141.34,338.31 L145.52,338.55 L149.69,338.69 L153.86,338.83 L158.04,338.96 L162.21,339.07 L166.39,339.19 L170.56,339.30 L174.73,339.40 L178.91,339.51 L183.08,339.61 L187.26,339.70 L191.43,339.79 L195.60,339.88 L199.78,339.97 L203.95,340.06 L208.13,340.14 L212.30,340.22 L216.47,340.31 L220.65,340.39 L224.82,340.47 L229.00,340.55 L233.17,340.63 L237.34,340.72 L241.52,340.80 L245.69,340.89 L249.87,340.97 L254.04,341.06 L258.21,341.15 L260.30,341.20" stroke="#0072BD" stroke-width="2.00"/>
<path d="M51.60,342.60 L72.47,342.60 L72.89,342.99 L73.30,343.36 L73.72,343.52 L74.14,343.19 L74.56,342.79 L74.97,342.40 L75.39,342.09 L75.81,341.90 L76.23,341.87 L76.64,342.00 L77.06,342.26 L77.48,342.60 L77.90,342.97 L78.31,343.29 L78.73,343.52 L79.15,343.62 L79.57,343.58 L79.98,343.43 L80.40,343.18 L80.82,342.89 L81.24,342.61 L81.65,342.39 L82.07,342.26 L82.49,342.24 L82.91,342.33 L83.32,342.50 L83.74,342.73 L84.16,342.97 L84.57,343.19 L84.99,343.34 L85.41,343.41 L85.83,343.39 L86.24,343.28 L86.66,343.11 L87.08,342.92 L87.50,342.73 L87.91,342.59 L88.33,342.50 L88.75,342.48 L89.17,342.54 L89.58,342.66 L90.00,342.81 L90.42,342.98 L90.84,343.12 L91.25,343.23 L91.67,343.27 L92.09,343.26 L92.51,343.19 L92.92,343.08 L93.34,342.95 L93.76,342.83 L94.17,342.73 L94.59,342.67 L95.01,342.66 L95.43,342.71 L95.84,342.79 L96.26,342.89 L96.68,343.01 L97.10,343.11 L97.51,343.18 L97.93,343.21 L98.35,343.20 L98.77,343.16 L99.18,343.09 L99.60,343.01 L100.02,342.93 L100.44,342.87 L100.85,342.84 L101.27,342.84 L101.69,342.87 L102.11,342.93 L102.52,343.01 L102.94,343.09 L103.36,343.17 L103.78,343.23 L104.19,343.26 L104.61,343.26 L105.03,343.24 L105.44,343.21 L105.86,343.16 L106.28,343.12 L106.70,343.09 L107.11,343.08 L107.53,343.09 L107.95,343.12 L108.37,343.17 L108.78,343.24 L109.20,343.30 L109.62,343.36 L110.04,343.41 L110.45,343.45 L110.87,343.46 L111.29,343.46 L111.71,343.44 L112.12,343.42 L112.54,343.41 L112.96,343.40 L113.38,343.40 L113.79,343.42 L114.21,343.45 L114.63,343.50 L115.04,343.55 L115.46,343.61 L115.88,343.66 L116.30,343.70 L116.71,343.74 L117.13,343.76 L117.55,343.77 L117.97,343.77 L118.38,343.77 L118.80,343.76 L119.22,343.77 L119.64,343.78 L120.05,343.81 L120.47,343.84 L120.89,343.88 L121.31,343.93 L121.72,343.97 L122.14,344.02 L122.56,344.06 L122.98,344.09 L123.39,344.12 L123.81,344.13 L124.23,344.14 L124.65,344.15 L128.82,344.44 L132.99,344.66 L137.17,344.93 L141.34,345.17 L145.52,345.34 L149.69,345.50 L153.86,345.63 L158.04,345.74 L162.21,345.86 L166.39,345.97 L170.56,346.07 L174.73,346.17 L178.91,346.27 L183.08,346.36 L187.26,346.46 L191.43,346.54 L195.60,346.63 L199.78,346.72 L203.95,346.80 L208.13,346.88 L212.30,346.96 L216.47,347.04 L220.65,347.12 L224.82,347.20 L229.00,347.28 L233.17,347.35 L237.34,347.43 L241.52,347.52 L245.69,347.60 L249.87,347.68 L254.04,347.77 L258.21,347.86 L260.30,347.90" stroke="#D95319" stroke-width="2.00"/>
<path d="M51.60,361.60 L72.47,361.60 L72.89,362.12 L73.30,363.13 L73.72,363.59 L74.14,363.84 L74.56,364.23 L74.97,364.68 L75.39,365.08 L75.81,365.34 L76.23,365.40 L76.64,365.27 L77.06,365.00 L77.48,364.65 L77.90,364.32 L78.31,364.09 L78.73,364.01 L79.15,364.10 L79.57,364.33 L79.98,364.63 L80.40,364.94 L80.82,365.18 L81.24,365.30 L81.65,365.28 L82.07,365.13 L82.49,364.91 L82.91,364.67 L83.32,364.47 L83.74,364.38 L84.16,364.40 L84.57,364.53 L84.99,364.75 L85.41,365.00 L85.83,365.22 L86.24,365.37 L86.66,365.43 L87.08,365.38 L87.50,365.27 L87.91,365.11 L88.33,364.97 L88.75,364.88 L89.17,364.87 L89.58,364.95 L90.00,365.09 L90.42,365.28 L90.84,365.47 L91.25,365.62 L91.67,365.71 L92.09,365.73 L92.51,365.68 L92.92,365.59 L93.34,365.49 L93.76,365.42 L94.17,365.39 L94.59,365.42 L95.01,365.51 L95.43,365.64 L95.84,365.79 L96.26,365.92 L96.68,366.01 L97.10,366.06 L97.51,366.05 L97.93,366.00 L98.35,365.93 L98.77,365.86 L99.18,365.82 L99.60,365.82 L100.02,365.87 L100.44,365.95 L100.85,366.04 L101.27,366.15 L101.69,366.23 L102.11,366.28 L102.52,366.29 L102.94,366.27 L103.36,366.23 L103.78,366.18 L104.19,366.14 L104.61,366.13 L105.03,366.15 L105.44,366.20 L105.86,366.28 L106.28,366.35 L106.70,366.43 L107.11,366.48 L107.53,366.51 L107.95,366.51 L108.37,366.49 L108.78,366.46 L109.20,366.44 L109.62,366.43 L110.04,366.43 L110.45,366.47 L110.87,366.52 L111.29,366.58 L111.71,366.64 L112.12,366.69 L112.54,366.72 L112.96,366.74 L113.38,366.74 L113.79,366.72 L114.21,366.71 L114.63,366.70 L115.04,366.70 L115.46,366.72 L115.88,366.76 L116.30,366.80 L116.71,366.85 L117.13,366.90 L117.55,366.93 L117.97,366.96 L118.38,366.97 L118.80,366.96 L119.22,366.96 L119.64,366.95 L120.05,366.96 L120.47,366.97 L120.89,366.99 L121.31,367.03 L121.72,367.06 L122.14,367.10 L122.56,367.14 L122.98,367.16 L123.39,367.18 L123.81,367.18 L124.23,367.19 L124.65,367.19 L128.82,367.39 L132.99,367.54 L137.17,367.66 L141.34,367.78 L145.52,367.90 L149.69,368.01 L153.86,368.09 L158.04,368.16 L162.21,368.23 L166.39,368.31 L170.56,368.38 L174.73,368.44 L178.91,368.50 L183.08,368.56 L187.26,368.62 L191.43,368.67 L195.60,368.73 L199.78,368.78 L203.95,368.83 L208.13,368.88 L212.30,368.93 L216.47,368.98 L220.65,369.02 L224.82,369.07 L229.00,369.12 L233.17,369.17 L237.34,369.21 L241.52,369.26 L245.69,369.31 L249.87,369.36 L254.04,369.42 L258.21,369.47 L260.30,369.50" stroke="#EDB120" stroke-width="2.00"/>
<path d="M51.60,358.00 L72.47,358.00 L72.89,357.98 L73.30,358.02 L73.72,358.20 L74.14,358.83 L74.56,359.40 L74.97,359.89 L75.39,360.35 L75.81,360.69 L76.23,360.84 L76.64,360.80 L77.06,360.59 L77.48,360.30 L77.90,360.00 L78.31,359.80 L78.73,359.73 L79.15,359.83 L79.57,360.08 L79.98,360.41 L80.40,360.76 L80.82,361.06 L81.24,361.24 L81.65,361.27 L82.07,361.18 L82.49,361.00 L82.91,360.78 L83.32,360.59 L83.74,360.49 L84.16,360.51 L84.57,360.64 L84.99,360.85 L85.41,361.10 L85.83,361.34 L86.24,361.52 L86.66,361.60 L87.08,361.58 L87.50,361.47 L87.91,361.33 L88.33,361.18 L88.75,361.07 L89.17,361.04 L89.58,361.10 L90.00,361.22 L90.42,361.40 L90.84,361.58 L91.25,361.73 L91.67,361.83 L92.09,361.85 L92.51,361.81 L92.92,361.72 L93.34,361.61 L93.76,361.52 L94.17,361.47 L94.59,361.48 L95.01,361.55 L95.43,361.67 L95.84,361.80 L96.26,361.93 L96.68,362.02 L97.10,362.07 L97.51,362.07 L97.93,362.02 L98.35,361.95 L98.77,361.88 L99.18,361.83 L99.60,361.83 L100.02,361.86 L100.44,361.94 L100.85,362.03 L101.27,362.14 L101.69,362.22 L102.11,362.28 L102.52,362.30 L102.94,362.29 L103.36,362.25 L103.78,362.20 L104.19,362.16 L104.61,362.15 L105.03,362.16 L105.44,362.21 L105.86,362.28 L106.28,362.36 L106.70,362.43 L107.11,362.49 L107.53,362.52 L107.95,362.53 L108.37,362.51 L108.78,362.49 L109.20,362.46 L109.62,362.45 L110.04,362.45 L110.45,362.48 L110.87,362.52 L111.29,362.58 L111.71,362.64 L112.12,362.70 L112.54,362.73 L112.96,362.75 L113.38,362.75 L113.79,362.74 L114.21,362.73 L114.63,362.72 L115.04,362.72 L115.46,362.73 L115.88,362.76 L116.30,362.81 L116.71,362.85 L117.13,362.90 L117.55,362.94 L117.97,362.96 L118.38,362.97 L118.80,362.97 L119.22,362.97 L119.64,362.96 L120.05,362.96 L120.47,362.97 L120.89,362.99 L121.31,363.02 L121.72,363.06 L122.14,363.10 L122.56,363.13 L122.98,363.16 L123.39,363.18 L123.81,363.18 L124.23,363.18 L124.65,363.18 L128.82,363.37 L132.99,363.52 L137.17,363.63 L141.34,363.76 L145.52,363.89 L149.69,364.01 L153.86,364.11 L158.04,364.20 L162.21,364.29 L166.39,364.38 L170.56,364.47 L174.73,364.56 L178.91,364.64 L183.08,364.71 L187.26,364.79 L191.43,364.87 L195.60,364.94 L199.78,365.01 L203.95,365.08 L208.13,365.15 L212.30,365.21 L216.47,365.28 L220.65,365.35 L224.82,365.41 L229.00,365.48 L233.17,365.54 L237.34,365.61 L241.52,365.68 L245.69,365.75 L249.87,365.82 L254.04,365.89 L258.21,365.96 L260.30,366.00" stroke="#7E2F8E" stroke-width="2.00"/>
<path d="M51.60,340.60 L72.47,340.60 L72.89,340.20 L73.30,339.86 L73.72,339.73 L74.14,339.93 L74.56,340.13 L74.97,340.28 L75.39,340.37 L75.81,340.37 L76.23,340.23 L76.64,339.96 L77.06,339.60 L77.48,339.22 L77.90,338.88 L78.31,338.61 L78.73,338.46 L79.15,338.44 L79.57,338.53 L79.98,338.72 L80.40,338.95 L80.82,339.18 L81.24,339.36 L81.65,339.46 L82.07,339.46 L82.49,339.36 L82.91,339.17 L83.32,338.93 L83.74,338.67 L84.16,338.43 L84.57,338.24 L84.99,338.14 L85.41,338.12 L85.83,338.18 L86.24,338.30 L86.66,338.45 L87.08,338.60 L87.50,338.72 L87.91,338.78 L88.33,338.78 L88.75,338.71 L89.17,338.59 L89.58,338.42 L90.00,338.25 L90.42,338.09 L90.84,337.96 L91.25,337.89 L91.67,337.88 L92.09,337.92 L92.51,338.01 L92.92,338.11 L93.34,338.21 L93.76,338.30 L94.17,338.35 L94.59,338.35 L95.01,338.31 L95.43,338.23 L95.84,338.12 L96.26,338.01 L96.68,337.91 L97.10,337.84 L97.51,337.80 L97.93,337.80 L98.35,337.83 L98.77,337.90 L99.18,337.98 L99.60,338.06 L100.02,338.13 L100.44,338.17 L100.85,338.18 L101.27,338.16 L101.69,338.12 L102.11,338.06 L102.52,338.00 L102.94,337.94 L103.36,337.90 L103.78,337.88 L104.19,337.89 L104.61,337.93 L105.03,337.98 L105.44,338.04 L105.86,338.11 L106.28,338.16 L106.70,338.20 L107.11,338.21 L107.53,338.21 L107.95,338.19 L108.37,338.16 L108.78,338.12 L109.20,338.09 L109.62,338.08 L110.04,338.07 L110.45,338.09 L110.87,338.12 L111.29,338.17 L111.71,338.22 L112.12,338.27 L112.54,338.31 L112.96,338.35 L113.38,338.37 L113.79,338.38 L114.21,338.37 L114.63,338.36 L115.04,338.35 L115.46,338.34 L115.88,338.33 L116.30,338.34 L116.71,338.36 L117.13,338.39 L117.55,338.43 L117.97,338.47 L118.38,338.52 L118.80,338.56 L119.22,338.59 L119.64,338.61 L120.05,338.63 L120.47,338.63 L120.89,338.63 L121.31,338.63 L121.72,338.64 L122.14,338.64 L122.56,338.66 L122.98,338.68 L123.39,338.71 L123.81,338.75 L124.23,338.78 L124.65,338.82 L128.82,339.00 L132.99,339.27 L137.17,339.48 L141.34,339.66 L145.52,339.86 L149.69,340.00 L153.86,340.12 L158.04,340.25 L162.21,340.36 L166.39,340.48 L170.56,340.59 L174.73,340.70 L178.91,340.81 L183.08,340.91 L187.26,341.01 L191.43,341.11 L195.60,341.21 L199.78,341.31 L203.95,341.41 L208.13,341.50 L212.30,341.60 L216.47,341.69 L220.65,341.79 L224.82,341.88 L229.00,341.97 L233.17,342.07 L237.34,342.16 L241.52,342.26 L245.69,342.35 L249.87,342.45 L254.04,342.55 L258.21,342.65 L260.30,342.70" stroke="#77AC30" stroke-width="2.00"/>
<path d="M51.60,330.00 L72.47,330.00 L72.89,329.94 L73.30,330.28 L73.72,330.95 L74.14,331.54 L74.56,331.98 L74.97,332.22 L75.39,332.22 L75.81,332.01 L76.23,331.72 L76.64,331.42 L77.06,331.17 L77.48,331.03 L77.90,331.02 L78.31,331.14 L78.73,331.38 L79.15,331.69 L79.57,332.03 L79.98,332.35 L80.40,332.60 L80.82,332.75 L81.24,332.79 L81.65,332.73 L82.07,332.58 L82.49,332.39 L82.91,332.19 L83.32,332.03 L83.74,331.94 L84.16,331.93 L84.57,332.02 L84.99,332.18 L85.41,332.39 L85.83,332.62 L86.24,332.84 L86.66,333.01 L87.08,333.11 L87.50,333.14 L87.91,333.10 L88.33,333.00 L88.75,332.88 L89.17,332.75 L89.58,332.64 L90.00,332.58 L90.42,332.58 L90.84,332.64 L91.25,332.75 L91.67,332.89 L92.09,333.05 L92.51,333.19 L92.92,333.31 L93.34,333.38 L93.76,333.40 L94.17,333.38 L94.59,333.31 L95.01,333.23 L95.43,333.15 L95.84,333.08 L96.26,333.04 L96.68,333.04 L97.10,333.08 L97.51,333.15 L97.93,333.25 L98.35,333.36 L98.77,333.46 L99.18,333.54 L99.60,333.59 L100.02,333.60 L100.44,333.59 L100.85,333.55 L101.27,333.49 L101.69,333.44 L102.11,333.40 L102.52,333.37 L102.94,333.38 L103.36,333.41 L103.78,333.46 L104.19,333.53 L104.61,333.60 L105.03,333.67 L105.44,333.73 L105.86,333.76 L106.28,333.78 L106.70,333.77 L107.11,333.75 L107.53,333.71 L107.95,333.68 L108.37,333.65 L108.78,333.64 L109.20,333.65 L109.62,333.67 L110.04,333.71 L110.45,333.76 L110.87,333.81 L111.29,333.86 L111.71,333.90 L112.12,333.93 L112.54,333.94 L112.96,333.94 L113.38,333.92 L113.79,333.90 L114.21,333.88 L114.63,333.87 L115.04,333.86 L115.46,333.87 L115.88,333.89 L116.30,333.92 L116.71,333.95 L117.13,333.99 L117.55,334.03 L117.97,334.06 L118.38,334.08 L118.80,334.09 L119.22,334.09 L119.64,334.08 L120.05,334.07 L120.47,334.06 L120.89,334.06 L121.31,334.05 L121.72,334.06 L122.14,334.08 L122.56,334.10 L122.98,334.12 L123.39,334.15 L123.81,334.18 L124.23,334.20 L124.65,334.22 L128.82,334.26 L132.99,334.37 L137.17,334.50 L141.34,334.57 L145.52,334.68 L149.69,334.81 L153.86,334.91 L158.04,335.04 L162.21,335.16 L166.39,335.28 L170.56,335.40 L174.73,335.52 L178.91,335.64 L183.08,335.76 L187.26,335.88 L191.43,336.00 L195.60,336.12 L199.78,336.24 L203.95,336.36 L208.13,336.48 L212.30,336.61 L216.47,336.73 L220.65,336.85 L224.82,336.97 L229.00,337.09 L233.17,337.21 L237.34,337.33 L241.52,337.46 L245.69,337.58 L249.87,337.70 L254.04,337.82 L258.21,337.94 L260.30,338.00" stroke="#4DBEEE" stroke-width="2.00"/>
<path d="M51.60,344.90 L72.47,344.90 L72.89,345.34 L73.30,345.91 L73.72,346.39 L74.14,346.38 L74.56,346.27 L74.97,346.09 L75.39,345.90 L75.81,345.71 L76.23,345.67 L76.64,345.78 L77.06,346.04 L77.48,346.41 L77.90,346.82 L78.31,347.22 L78.73,347.54 L79.15,347.76 L79.57,347.84 L79.98,347.79 L80.40,347.64 L80.82,347.41 L81.24,347.18 L81.65,346.97 L82.07,346.84 L82.49,346.81 L82.91,346.89 L83.32,347.07 L83.74,347.32 L84.16,347.60 L84.57,347.87 L84.99,348.09 L85.41,348.24 L85.83,348.30 L86.24,348.27 L86.66,348.17 L87.08,348.02 L87.50,347.87 L87.91,347.73 L88.33,347.65 L88.75,347.63 L89.17,347.69 L89.58,347.81 L90.00,347.98 L90.42,348.17 L90.84,348.36 L91.25,348.51 L91.67,348.61 L92.09,348.65 L92.51,348.64 L92.92,348.57 L93.34,348.48 L93.76,348.38 L94.17,348.29 L94.59,348.24 L95.01,348.23 L95.43,348.27 L95.84,348.36 L96.26,348.48 L96.68,348.61 L97.10,348.74 L97.51,348.85 L97.93,348.92 L98.35,348.95 L98.77,348.95 L99.18,348.91 L99.60,348.85 L100.02,348.79 L100.44,348.74 L100.85,348.71 L101.27,348.71 L101.69,348.75 L102.11,348.81 L102.52,348.90 L102.94,348.99 L103.36,349.08 L103.78,349.16 L104.19,349.22 L104.61,349.25 L105.03,349.25 L105.44,349.23 L105.86,349.20 L106.28,349.16 L106.70,349.14 L107.11,349.12 L107.53,349.13 L107.95,349.16 L108.37,349.21 L108.78,349.28 L109.20,349.35 L109.62,349.41 L110.04,349.47 L110.45,349.52 L110.87,349.54 L111.29,349.55 L111.71,349.54 L112.12,349.53 L112.54,349.51 L112.96,349.50 L113.38,349.50 L113.79,349.51 L114.21,349.53 L114.63,349.57 L115.04,349.62 L115.46,349.67 L115.88,349.73 L116.30,349.77 L116.71,349.81 L117.13,349.83 L117.55,349.84 L117.97,349.84 L118.38,349.84 L118.80,349.83 L119.22,349.83 L119.64,349.83 L120.05,349.84 L120.47,349.87 L120.89,349.90 L121.31,349.94 L121.72,349.98 L122.14,350.02 L122.56,350.05 L122.98,350.08 L123.39,350.10 L123.81,350.11 L124.23,350.12 L124.65,350.12 L128.82,350.31 L132.99,350.43 L137.17,350.62 L141.34,350.76 L145.52,350.87 L149.69,351.00 L153.86,351.11 L158.04,351.21 L162.21,351.31 L166.39,351.41 L170.56,351.50 L174.73,351.59 L178.91,351.67 L183.08,351.76 L187.26,351.84 L191.43,351.91 L195.60,351.99 L199.78,352.06 L203.95,352.14 L208.13,352.21 L212.30,352.28 L216.47,352.35 L220.65,352.42 L224.82,352.48 L229.00,352.55 L233.17,352.62 L237.34,352.69 L241.52,352.76 L245.69,352.84 L249.87,352.91 L254.04,352.98 L258.21,353.06 L260.30,353.10" stroke="#A2142F" stroke-width="2.00"/>
<path d="M51.60,340.60 L72.47,340.60 L72.89,340.63 L73.30,340.56 L73.72,340.34 L74.14,339.53 L74.56,338.68 L74.97,337.97 L75.39,337.51 L75.81,337.08 L76.23,336.75 L76.64,336.57 L77.06,336.55 L77.48,336.70 L77.90,336.99 L78.31,337.35 L78.73,337.73 L79.15,338.06 L79.57,338.30 L79.98,338.40 L80.40,338.37 L80.82,338.21 L81.24,337.96 L81.65,337.68 L82.07,337.42 L82.49,337.21 L82.91,337.11 L83.32,337.12 L83.74,337.24 L84.16,337.45 L84.57,337.71 L84.99,337.99 L85.41,338.23 L85.83,338.41 L86.24,338.49 L86.66,338.49 L87.08,338.40 L87.50,338.26 L87.91,338.09 L88.33,337.92 L88.75,337.81 L89.17,337.75 L89.58,337.78 L90.00,337.87 L90.42,338.03 L90.84,338.22 L91.25,338.42 L91.67,338.60 L92.09,338.73 L92.51,338.81 L92.92,338.82 L93.34,338.77 L93.76,338.69 L94.17,338.59 L94.59,338.49 L95.01,338.42 L95.43,338.40 L95.84,338.43 L96.26,338.50 L96.68,338.62 L97.10,338.76 L97.51,338.90 L97.93,339.03 L98.35,339.12 L98.77,339.18 L99.18,339.20 L99.60,339.17 L100.02,339.12 L100.44,339.06 L100.85,339.00 L101.27,338.97 L101.69,338.96 L102.11,338.99 L102.52,339.05 L102.94,339.14 L103.36,339.24 L103.78,339.35 L104.19,339.44 L104.61,339.52 L105.03,339.57 L105.44,339.60 L105.86,339.60 L106.28,339.58 L106.70,339.56 L107.11,339.53 L107.53,339.52 L107.95,339.53 L108.37,339.57 L108.78,339.62 L109.20,339.70 L109.62,339.78 L110.04,339.87 L110.45,339.95 L110.87,340.02 L111.29,340.07 L111.71,340.10 L112.12,340.12 L112.54,340.12 L112.96,340.12 L113.38,340.12 L113.79,340.13 L114.21,340.15 L114.63,340.19 L115.04,340.24 L115.46,340.31 L115.88,340.38 L116.30,340.45 L116.71,340.52 L117.13,340.58 L117.55,340.63 L117.97,340.67 L118.38,340.69 L118.80,340.71 L119.22,340.72 L119.64,340.73 L120.05,340.75 L120.47,340.78 L120.89,340.82 L121.31,340.87 L121.72,340.93 L122.14,340.99 L122.56,341.05 L122.98,341.11 L123.39,341.17 L123.81,341.21 L124.23,341.25 L124.65,341.28 L128.82,341.64 L132.99,341.97 L137.17,342.34 L141.34,342.61 L145.52,342.82 L149.69,343.01 L153.86,343.13 L158.04,343.24 L162.21,343.36 L166.39,343.46 L170.56,343.55 L174.73,343.65 L178.91,343.74 L183.08,343.82 L187.26,343.91 L191.43,343.98 L195.60,344.05 L199.78,344.13 L203.95,344.19 L208.13,344.26 L212.30,344.33 L216.47,344.39 L220.65,344.45 L224.82,344.52 L229.00,344.58 L233.17,344.64 L237.34,344.71 L241.52,344.77 L245.69,344.84 L249.87,344.91 L254.04,344.99 L258.21,345.06 L260.30,345.10" stroke="#0072BD" stroke-width="2.00"/>
<path d="M51.60,364.90 L72.47,364.90 L72.89,365.55 L73.30,366.82 L73.72,367.41 L74.14,367.72 L74.56,368.20 L74.97,368.75 L75.39,369.24 L75.81,369.56 L76.23,369.64 L76.64,369.50 L77.06,369.17 L77.48,368.76 L77.90,368.37 L78.31,368.10 L78.73,368.01 L79.15,368.13 L79.57,368.40 L79.98,368.78 L80.40,369.15 L80.82,369.44 L81.24,369.59 L81.65,369.57 L82.07,369.39 L82.49,369.13 L82.91,368.84 L83.32,368.61 L83.74,368.50 L84.16,368.52 L84.57,368.69 L84.99,368.94 L85.41,369.24 L85.83,369.50 L86.24,369.68 L86.66,369.75 L87.08,369.69 L87.50,369.55 L87.91,369.36 L88.33,369.18 L88.75,369.07 L89.17,369.05 L89.58,369.13 L90.00,369.30 L90.42,369.52 L90.84,369.73 L91.25,369.91 L91.67,370.01 L92.09,370.02 L92.51,369.96 L92.92,369.84 L93.34,369.71 L93.76,369.61 L94.17,369.57 L94.59,369.60 L95.01,369.70 L95.43,369.85 L95.84,370.01 L96.26,370.16 L96.68,370.27 L97.10,370.31 L97.51,370.29 L97.93,370.22 L98.35,370.13 L98.77,370.05 L99.18,369.99 L99.60,369.99 L100.02,370.03 L100.44,370.12 L100.85,370.24 L101.27,370.35 L101.69,370.44 L102.11,370.50 L102.52,370.51 L102.94,370.48 L103.36,370.42 L103.78,370.36 L104.19,370.31 L104.61,370.29 L105.03,370.31 L105.44,370.37 L105.86,370.44 L106.28,370.53 L106.70,370.62 L107.11,370.67 L107.53,370.70 L107.95,370.70 L108.37,370.67 L108.78,370.63 L109.20,370.59 L109.62,370.57 L110.04,370.58 L110.45,370.61 L110.87,370.67 L111.29,370.73 L111.71,370.80 L112.12,370.86 L112.54,370.89 L112.96,370.90 L113.38,370.90 L113.79,370.88 L114.21,370.85 L114.63,370.84 L115.04,370.84 L115.46,370.85 L115.88,370.89 L116.30,370.94 L116.71,370.99 L117.13,371.04 L117.55,371.08 L117.97,371.10 L118.38,371.11 L118.80,371.10 L119.22,371.09 L119.64,371.08 L120.05,371.07 L120.47,371.08 L120.89,371.11 L121.31,371.14 L121.72,371.18 L122.14,371.22 L122.56,371.26 L122.98,371.28 L123.39,371.30 L123.81,371.30 L124.23,371.30 L124.65,371.29 L128.82,371.48 L132.99,371.61 L137.17,371.71 L141.34,371.82 L145.52,371.92 L149.69,372.01 L153.86,372.07 L158.04,372.12 L162.21,372.18 L166.39,372.23 L170.56,372.29 L174.73,372.33 L178.91,372.38 L183.08,372.42 L187.26,372.47 L191.43,372.51 L195.60,372.55 L199.78,372.58 L203.95,372.62 L208.13,372.65 L212.30,372.69 L216.47,372.72 L220.65,372.76 L224.82,372.79 L229.00,372.82 L233.17,372.86 L237.34,372.89 L241.52,372.93 L245.69,372.96 L249.87,373.00 L254.04,373.04 L258.21,373.08 L260.30,373.10" stroke="#D95319" stroke-width="2.00"/>
</g>
<text x="47.71" y="393.40" font-size="14">0</text>
<text x="99.88" y="393.40" font-size="14">5</text>
<text x="148.16" y="393.40" font-size="14"> 0</text><path d="M763 0H583V1147Q518 1085 412.5 1023T223 930V1104Q374 1175 487 1276T647 1472H763V0Z" transform="translate(148.164,393.400) scale(0.00684,-0.00654)" fill="#262626"/>
<text x="200.34" y="393.40" font-size="14"> 5</text><path d="M763 0H583V1147Q518 1085 412.5 1023T223 930V1104Q374 1175 487 1276T647 1472H763V0Z" transform="translate(200.339,393.400) scale(0.00684,-0.00654)" fill="#262626"/>
<text x="252.51" y="393.40" font-size="14">20</text>
<text x="32.03" y="242.20" font-size="14">40</text>
<text x="32.03" y="288.80" font-size="14">20</text>
<text x="39.81" y="334.70" font-size="14">0</text>
<text x="32.03" y="381.00" font-size="14">20</text>
<text x="155.95" y="411.30" font-size="14.7" text-anchor="middle">Time [s]</text>
<text x="155.95" y="430.70" font-size="15" text-anchor="middle">(c)</text>
<text transform="translate(23.70,311.80) rotate(-90)" font-size="16.6" text-anchor="middle">Rotor Angle (deg)</text>
<defs><clipPath id="cd"><rect x="326.85" y="235.30" width="209.45" height="140.30"/></clipPath></defs>
<rect x="326.85" y="236.50" width="209.45" height="137.90" fill="none" stroke="#262626" stroke-width="1" opacity="0.75"/>
<path d="M379.21,374.40v-2.10M379.21,236.50v2.10" stroke="#262626" stroke-width="1" opacity="0.75"/>
<path d="M431.57,374.40v-2.10M431.57,236.50v2.10" stroke="#262626" stroke-width="1" opacity="0.75"/>
<path d="M483.94,374.40v-2.10M483.94,236.50v2.10" stroke="#262626" stroke-width="1" opacity="0.75"/>
<path d="M326.85,271.20h2.10M536.30,271.20h-2.10" stroke="#262626" stroke-width="1" opacity="0.75"/>
<path d="M326.85,305.40h2.10M536.30,305.40h-2.10" stroke="#262626" stroke-width="1" opacity="0.75"/>
<path d="M326.85,340.40h2.10M536.30,340.40h-2.10" stroke="#262626" stroke-width="1" opacity="0.75"/>
<g clip-path="url(#cd)" fill="none" stroke-linejoin="round" stroke-linecap="round">
<path d="M326.70,305.20 C396.57,305.20 466.43,305.20 536.30,305.20" stroke="#0072BD" stroke-width="2.00"/>
<path d="M326.70,271.40 C333.97,271.40 341.23,271.40 348.50,271.40C348.77,268.27 348.94,264.72 349.30,262.00 C349.58,259.89 349.91,256.45 350.30,256.40 C350.52,256.37 350.80,257.21 351.00,258.00 C351.49,259.93 351.37,268.35 351.90,268.40 C352.34,268.44 353.03,261.54 353.70,261.50 C354.28,261.47 354.71,266.27 355.60,266.50 C356.33,266.69 357.25,264.51 358.30,264.20 C359.38,263.88 360.66,264.39 362.00,264.70 C363.67,265.08 365.68,265.82 367.50,266.50 C369.35,267.19 371.09,268.06 373.00,268.80 C375.04,269.59 377.25,270.41 379.40,271.10 C381.52,271.78 383.77,272.52 385.80,272.90 C387.58,273.24 388.88,273.23 390.90,273.40 C393.85,273.65 398.16,274.07 401.80,274.20 C405.43,274.33 408.70,274.25 412.70,274.20 C417.59,274.14 424.10,273.95 429.00,273.80 C433.03,273.68 434.52,273.52 440.00,273.40 C456.22,273.04 504.20,272.87 536.30,272.60" stroke="#D95319" stroke-width="2.00"/>
<path d="M326.70,306.30 C333.73,306.30 340.77,306.30 347.80,306.30C348.27,305.00 348.78,302.38 349.20,302.40 C349.70,302.43 350.12,305.85 350.50,308.00 C351.00,310.84 351.04,316.43 351.70,318.00 C351.93,318.56 352.27,319.06 352.50,319.00 C353.04,318.85 352.98,314.00 353.50,312.00 C353.91,310.42 354.37,308.15 355.10,307.90 C355.61,307.73 356.39,308.34 356.90,309.00 C357.80,310.16 358.22,312.97 358.80,315.20 C359.47,317.75 359.68,321.12 360.60,323.50 C361.37,325.50 362.63,327.24 363.60,328.70 C364.35,329.83 365.16,330.34 365.80,331.60 C366.73,333.42 367.28,336.41 368.00,338.90 C368.75,341.50 369.09,344.99 370.20,346.90 C370.98,348.24 372.29,348.60 373.10,349.80 C374.04,351.19 374.46,353.22 375.30,354.90 C376.16,356.62 376.96,358.90 378.20,360.00 C379.22,360.90 380.69,360.65 381.80,361.50 C383.18,362.56 384.17,365.59 385.50,366.30 C386.42,366.79 387.44,366.12 388.40,366.50 C389.62,366.99 390.78,369.01 392.00,369.50 C392.96,369.88 393.84,369.52 394.90,369.70 C396.22,369.92 397.83,370.58 399.30,370.90 C400.73,371.21 402.06,371.33 403.60,371.60 C405.41,371.92 407.43,372.35 409.50,372.70 C411.78,373.09 413.93,373.51 416.70,373.80 C420.45,374.20 423.45,374.40 430.00,374.60 C448.51,375.16 500.87,374.60 536.30,374.60" stroke="#EDB120" stroke-width="2.00"/>
<path d="M326.70,318.30 C333.73,318.30 340.77,318.30 347.80,318.30C348.30,316.30 348.73,312.30 349.30,312.30 C350.05,312.30 350.92,322.51 351.90,322.60 C352.61,322.66 353.33,317.72 354.20,317.50 C354.76,317.36 355.32,318.92 356.00,318.90 C356.92,318.87 357.91,316.72 359.20,316.10 C360.63,315.42 362.69,315.30 364.30,315.20 C365.74,315.11 366.73,315.26 368.40,315.40 C371.02,315.62 375.02,316.18 378.50,316.60 C382.21,317.05 385.00,317.71 390.00,318.00 C399.30,318.54 413.47,317.86 430.00,317.80 C456.94,317.71 500.87,317.67 536.30,317.60" stroke="#7E2F8E" stroke-width="2.00"/>
<path d="M326.70,279.30 C333.87,279.30 341.03,279.30 348.20,279.30C348.63,275.53 349.10,271.58 349.50,268.00 C349.86,264.75 349.76,261.56 350.50,258.70 C351.19,256.06 352.70,251.31 353.60,251.40 C354.81,251.52 355.09,265.40 356.50,265.60 C357.60,265.76 359.34,257.73 360.60,257.80 C361.96,257.88 362.82,267.19 364.30,267.40 C365.50,267.57 367.08,261.93 368.40,262.00 C369.83,262.08 371.01,268.62 372.50,268.80 C373.78,268.96 375.27,264.70 376.60,264.70 C377.86,264.70 379.09,268.42 380.30,268.40 C381.49,268.38 382.55,264.82 383.80,264.70 C384.99,264.58 386.30,267.43 387.60,267.40 C389.02,267.37 390.54,264.16 392.00,264.00 C393.27,263.86 394.49,265.81 395.80,265.80 C397.22,265.78 398.85,263.58 400.20,263.60 C401.36,263.61 402.23,265.23 403.40,265.30 C404.73,265.38 406.38,263.64 407.80,263.60 C409.11,263.56 410.28,264.75 411.60,264.80 C413.01,264.86 414.57,263.82 416.00,263.80 C417.36,263.78 418.67,264.62 420.00,264.60 C421.34,264.58 422.66,263.75 424.00,263.70 C425.33,263.65 426.67,264.28 428.00,264.30 C429.33,264.32 430.43,263.88 432.00,263.80 C434.21,263.69 435.86,263.98 440.00,264.00 C454.36,264.06 504.20,262.93 536.30,262.40" stroke="#77AC30" stroke-width="2.00"/>
</g>
<text x="322.96" y="393.40" font-size="14">0</text>
<text x="375.32" y="393.40" font-size="14">5</text>
<text x="423.79" y="393.40" font-size="14"> 0</text><path d="M763 0H583V1147Q518 1085 412.5 1023T223 930V1104Q374 1175 487 1276T647 1472H763V0Z" transform="translate(423.789,393.400) scale(0.00684,-0.00654)" fill="#262626"/>
<text x="476.15" y="393.40" font-size="14"> 5</text><path d="M763 0H583V1147Q518 1085 412.5 1023T223 930V1104Q374 1175 487 1276T647 1472H763V0Z" transform="translate(476.151,393.400) scale(0.00684,-0.00654)" fill="#262626"/>
<text x="528.51" y="393.40" font-size="14">20</text>
<text x="307.28" y="242.40" font-size="14">20</text>
<text x="307.28" y="277.00" font-size="14"> 0</text><path d="M763 0H583V1147Q518 1085 412.5 1023T223 930V1104Q374 1175 487 1276T647 1472H763V0Z" transform="translate(307.278,277.000) scale(0.00684,-0.00654)" fill="#262626"/>
<text x="315.06" y="311.20" font-size="14">0</text>
<text x="302.62" y="346.20" font-size="14">- 0</text><path d="M763 0H583V1147Q518 1085 412.5 1023T223 930V1104Q374 1175 487 1276T647 1472H763V0Z" transform="translate(307.278,346.200) scale(0.00684,-0.00654)" fill="#262626"/>
<text x="302.62" y="380.70" font-size="14">-20</text>
<text x="431.57" y="411.30" font-size="14.7" text-anchor="middle">Time [s]</text>
<text x="431.57" y="430.70" font-size="15" text-anchor="middle">(d)</text>
<text transform="translate(293.90,306.90) rotate(-90)" font-size="16.6" text-anchor="middle">Rotor Angle (deg)</text>
</svg></body></html>
